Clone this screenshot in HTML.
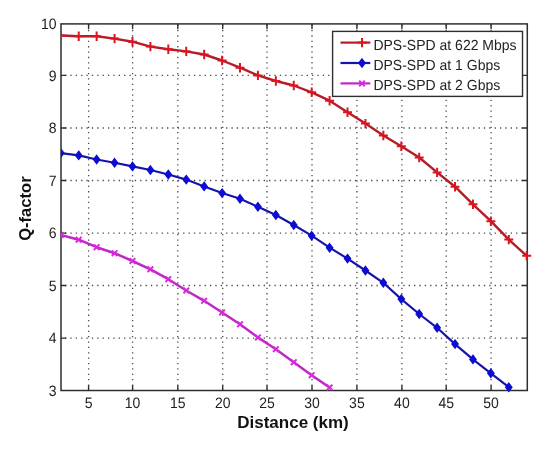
<!DOCTYPE html><html><head><meta charset="utf-8"><title>Q-factor vs Distance</title><style>html,body{margin:0;padding:0;background:#fff;width:550px;height:455px;overflow:hidden;}svg{display:block;filter:blur(0.3px);}text{font-family:"Liberation Sans",Arial,sans-serif;}</style></head><body>
<svg width="550" height="455" viewBox="0 0 550 455">
<rect x="0" y="0" width="550" height="455" fill="#fff"/>
<path d="M88.60 390.50V23.90M132.60 390.50V23.90M177.80 390.50V23.90M222.70 390.50V23.90M267.00 390.50V23.90M312.00 390.50V23.90M356.90 390.50V23.90M401.90 390.50V23.90M446.20 390.50V23.90M491.10 390.50V23.90" stroke="#4a4a4a" stroke-width="1.3" stroke-dasharray="1.3 4.07" stroke-dashoffset="-4.8" fill="none"/>
<path d="M61.00 338.10H527.30M61.00 285.50H527.30M61.00 233.10H527.30M61.00 180.50H527.30M61.00 128.00H527.30M61.00 75.40H527.30" stroke="#4a4a4a" stroke-width="1.3" stroke-dasharray="1.3 4.07" stroke-dashoffset="-4" fill="none"/>
<path d="M88.60 390.50v-5.3M88.60 23.90v5.3M132.60 390.50v-5.3M132.60 23.90v5.3M177.80 390.50v-5.3M177.80 23.90v5.3M222.70 390.50v-5.3M222.70 23.90v5.3M267.00 390.50v-5.3M267.00 23.90v5.3M312.00 390.50v-5.3M312.00 23.90v5.3M356.90 390.50v-5.3M356.90 23.90v5.3M401.90 390.50v-5.3M401.90 23.90v5.3M446.20 390.50v-5.3M446.20 23.90v5.3M491.10 390.50v-5.3M491.10 23.90v5.3M61.00 338.10h5.3M527.30 338.10h-5.3M61.00 285.50h5.3M527.30 285.50h-5.3M61.00 233.10h5.3M527.30 233.10h-5.3M61.00 180.50h5.3M527.30 180.50h-5.3M61.00 128.00h5.3M527.30 128.00h-5.3M61.00 75.40h5.3M527.30 75.40h-5.3" stroke="#2e2e2e" stroke-width="1.4" fill="none"/>
<rect x="61.00" y="23.90" width="466.30" height="366.60" stroke="#2e2e2e" stroke-width="1.5" fill="none"/>
<defs><clipPath id="c"><rect x="61.00" y="0" width="489.00" height="455"/></clipPath></defs>
<g clip-path="url(#c)">
<path d="M60.80 35.50 L78.72 36.30 L96.64 36.30 L114.56 38.60 L132.48 41.70 L150.40 46.60 L168.32 49.20 L186.24 51.40 L204.16 54.50 L222.08 60.50 L240.00 67.70 L257.92 75.40 L275.84 81.00 L293.76 85.50 L311.68 92.30 L329.60 100.70 L347.52 112.20 L365.44 123.60 L383.36 135.50 L401.28 146.20 L419.20 157.50 L437.12 172.40 L455.04 186.70 L472.96 204.30 L490.88 221.20 L508.80 239.60 L526.72 255.80" stroke="#b61c26" stroke-width="2.4" fill="none" stroke-linejoin="round"/>
<path d="M60.80 153.10 L78.72 155.40 L96.64 159.50 L114.56 162.70 L132.48 166.40 L150.40 170.00 L168.32 174.50 L186.24 179.60 L204.16 186.40 L222.08 193.10 L240.00 198.80 L257.92 206.80 L275.84 215.00 L293.76 225.00 L311.68 235.70 L329.60 247.70 L347.52 258.60 L365.44 270.50 L383.36 282.80 L401.28 299.10 L419.20 314.00 L437.12 327.80 L455.04 344.10 L472.96 359.40 L490.88 373.30 L508.80 387.20" stroke="#1612ac" stroke-width="2.15" fill="none" stroke-linejoin="round"/>
<path d="M60.80 235.00 L78.72 239.70 L96.64 247.20 L114.56 253.20 L132.48 261.00 L150.40 269.30 L168.32 279.20 L186.24 290.50 L204.16 300.80 L222.08 312.50 L240.00 324.30 L257.92 337.40 L275.84 349.20 L293.76 362.20 L311.68 375.20 L329.60 387.50" stroke="#c126c6" stroke-width="2.5" fill="none" stroke-linejoin="round"/>
<path d="M56.30 35.50h9.00M60.80 30.80v9.40M74.22 36.30h9.00M78.72 31.60v9.40M92.14 36.30h9.00M96.64 31.60v9.40M110.06 38.60h9.00M114.56 33.90v9.40M127.98 41.70h9.00M132.48 37.00v9.40M145.90 46.60h9.00M150.40 41.90v9.40M163.82 49.20h9.00M168.32 44.50v9.40M181.74 51.40h9.00M186.24 46.70v9.40M199.66 54.50h9.00M204.16 49.80v9.40M217.58 60.50h9.00M222.08 55.80v9.40M235.50 67.70h9.00M240.00 63.00v9.40M253.42 75.40h9.00M257.92 70.70v9.40M271.34 81.00h9.00M275.84 76.30v9.40M289.26 85.50h9.00M293.76 80.80v9.40M307.18 92.30h9.00M311.68 87.60v9.40M325.10 100.70h9.00M329.60 96.00v9.40M343.02 112.20h9.00M347.52 107.50v9.40M360.94 123.60h9.00M365.44 118.90v9.40M378.86 135.50h9.00M383.36 130.80v9.40M396.78 146.20h9.00M401.28 141.50v9.40M414.70 157.50h9.00M419.20 152.80v9.40M432.62 172.40h9.00M437.12 167.70v9.40M450.54 186.70h9.00M455.04 182.00v9.40M468.46 204.30h9.00M472.96 199.60v9.40M486.38 221.20h9.00M490.88 216.50v9.40M504.30 239.60h9.00M508.80 234.90v9.40M522.22 255.80h9.00M526.72 251.10v9.40" stroke="#dc1420" stroke-width="2" fill="none"/>
<path d="M60.80 148.90L64.00 153.10L60.80 157.30L57.60 153.10ZM78.72 151.20L81.92 155.40L78.72 159.60L75.52 155.40ZM96.64 155.30L99.84 159.50L96.64 163.70L93.44 159.50ZM114.56 158.50L117.76 162.70L114.56 166.90L111.36 162.70ZM132.48 162.20L135.68 166.40L132.48 170.60L129.28 166.40ZM150.40 165.80L153.60 170.00L150.40 174.20L147.20 170.00ZM168.32 170.30L171.52 174.50L168.32 178.70L165.12 174.50ZM186.24 175.40L189.44 179.60L186.24 183.80L183.04 179.60ZM204.16 182.20L207.36 186.40L204.16 190.60L200.96 186.40ZM222.08 188.90L225.28 193.10L222.08 197.30L218.88 193.10ZM240.00 194.60L243.20 198.80L240.00 203.00L236.80 198.80ZM257.92 202.60L261.12 206.80L257.92 211.00L254.72 206.80ZM275.84 210.80L279.04 215.00L275.84 219.20L272.64 215.00ZM293.76 220.80L296.96 225.00L293.76 229.20L290.56 225.00ZM311.68 231.50L314.88 235.70L311.68 239.90L308.48 235.70ZM329.60 243.50L332.80 247.70L329.60 251.90L326.40 247.70ZM347.52 254.40L350.72 258.60L347.52 262.80L344.32 258.60ZM365.44 266.30L368.64 270.50L365.44 274.70L362.24 270.50ZM383.36 278.60L386.56 282.80L383.36 287.00L380.16 282.80ZM401.28 294.90L404.48 299.10L401.28 303.30L398.08 299.10ZM419.20 309.80L422.40 314.00L419.20 318.20L416.00 314.00ZM437.12 323.60L440.32 327.80L437.12 332.00L433.92 327.80ZM455.04 339.90L458.24 344.10L455.04 348.30L451.84 344.10ZM472.96 355.20L476.16 359.40L472.96 363.60L469.76 359.40ZM490.88 369.10L494.08 373.30L490.88 377.50L487.68 373.30ZM508.80 383.00L512.00 387.20L508.80 391.40L505.60 387.20Z" stroke="#0c0cd4" stroke-width="1.2" fill="#0c0cd4"/>
<path d="M58.00 232.20l5.60 5.60M58.00 237.80l5.60 -5.60M75.92 236.90l5.60 5.60M75.92 242.50l5.60 -5.60M93.84 244.40l5.60 5.60M93.84 250.00l5.60 -5.60M111.76 250.40l5.60 5.60M111.76 256.00l5.60 -5.60M129.68 258.20l5.60 5.60M129.68 263.80l5.60 -5.60M147.60 266.50l5.60 5.60M147.60 272.10l5.60 -5.60M165.52 276.40l5.60 5.60M165.52 282.00l5.60 -5.60M183.44 287.70l5.60 5.60M183.44 293.30l5.60 -5.60M201.36 298.00l5.60 5.60M201.36 303.60l5.60 -5.60M219.28 309.70l5.60 5.60M219.28 315.30l5.60 -5.60M237.20 321.50l5.60 5.60M237.20 327.10l5.60 -5.60M255.12 334.60l5.60 5.60M255.12 340.20l5.60 -5.60M273.04 346.40l5.60 5.60M273.04 352.00l5.60 -5.60M290.96 359.40l5.60 5.60M290.96 365.00l5.60 -5.60M308.88 372.40l5.60 5.60M308.88 378.00l5.60 -5.60M326.80 384.70l5.60 5.60M326.80 390.30l5.60 -5.60" stroke="#d82adc" stroke-width="2" fill="none"/>
</g>
<text transform="translate(88.60 407.6) scale(1 1.08)" font-size="14" text-rendering="geometricPrecision" text-anchor="middle" fill="#222">5</text>
<text transform="translate(132.60 407.6) scale(1 1.08)" font-size="14" text-rendering="geometricPrecision" text-anchor="middle" fill="#222">10</text>
<text transform="translate(177.80 407.6) scale(1 1.08)" font-size="14" text-rendering="geometricPrecision" text-anchor="middle" fill="#222">15</text>
<text transform="translate(222.70 407.6) scale(1 1.08)" font-size="14" text-rendering="geometricPrecision" text-anchor="middle" fill="#222">20</text>
<text transform="translate(267.00 407.6) scale(1 1.08)" font-size="14" text-rendering="geometricPrecision" text-anchor="middle" fill="#222">25</text>
<text transform="translate(312.00 407.6) scale(1 1.08)" font-size="14" text-rendering="geometricPrecision" text-anchor="middle" fill="#222">30</text>
<text transform="translate(356.90 407.6) scale(1 1.08)" font-size="14" text-rendering="geometricPrecision" text-anchor="middle" fill="#222">35</text>
<text transform="translate(401.90 407.6) scale(1 1.08)" font-size="14" text-rendering="geometricPrecision" text-anchor="middle" fill="#222">40</text>
<text transform="translate(446.20 407.6) scale(1 1.08)" font-size="14" text-rendering="geometricPrecision" text-anchor="middle" fill="#222">45</text>
<text transform="translate(491.10 407.6) scale(1 1.08)" font-size="14" text-rendering="geometricPrecision" text-anchor="middle" fill="#222">50</text>
<text transform="translate(56.5 395.60) scale(1 1.07)" font-size="14" text-rendering="geometricPrecision" text-anchor="end" fill="#222">3</text>
<text transform="translate(56.5 343.20) scale(1 1.07)" font-size="14" text-rendering="geometricPrecision" text-anchor="end" fill="#222">4</text>
<text transform="translate(56.5 290.60) scale(1 1.07)" font-size="14" text-rendering="geometricPrecision" text-anchor="end" fill="#222">5</text>
<text transform="translate(56.5 238.20) scale(1 1.07)" font-size="14" text-rendering="geometricPrecision" text-anchor="end" fill="#222">6</text>
<text transform="translate(56.5 185.60) scale(1 1.07)" font-size="14" text-rendering="geometricPrecision" text-anchor="end" fill="#222">7</text>
<text transform="translate(56.5 133.10) scale(1 1.07)" font-size="14" text-rendering="geometricPrecision" text-anchor="end" fill="#222">8</text>
<text transform="translate(56.5 80.50) scale(1 1.07)" font-size="14" text-rendering="geometricPrecision" text-anchor="end" fill="#222">9</text>
<text transform="translate(56.5 29.00) scale(1 1.07)" font-size="14" text-rendering="geometricPrecision" text-anchor="end" fill="#222">10</text>
<text x="293" y="428" font-size="17" font-weight="bold" text-anchor="middle" fill="#111">Distance (km)</text>
<text transform="translate(30.9,208.6) rotate(-90)" font-size="16.6" font-weight="bold" text-anchor="middle" fill="#111">Q-factor</text>
<rect x="332.6" y="31.4" width="189.9" height="65.0" fill="#fff" stroke="#2e2e2e" stroke-width="1.4"/>
<path d="M340.5 42.60H370.3" stroke="#b61c26" stroke-width="2.2"/>
<path d="M357.50 42.60h9.00M362.00 37.90v9.40" stroke="#dc1420" stroke-width="2"/>
<text transform="translate(373.4 49.60) scale(1 1.04)" font-size="14" text-rendering="geometricPrecision" fill="#222">DPS-SPD at 622 Mbps</text>
<path d="M340.5 63.00H370.3" stroke="#1612ac" stroke-width="2.2"/>
<path d="M362.00 58.80L365.20 63.00L362.00 67.20L358.80 63.00Z" fill="#0c0cd4" stroke="#0c0cd4" stroke-width="1.2"/>
<text transform="translate(373.4 69.65) scale(1 1.04)" font-size="14" text-rendering="geometricPrecision" fill="#222">DPS-SPD at 1 Gbps</text>
<path d="M340.5 83.40H370.3" stroke="#c126c6" stroke-width="2.2"/>
<path d="M359.20 80.60l5.60 5.60M359.20 86.20l5.60 -5.60" stroke="#d82adc" stroke-width="2"/>
<text transform="translate(373.4 89.70) scale(1 1.04)" font-size="14" text-rendering="geometricPrecision" fill="#222">DPS-SPD at 2 Gbps</text>
</svg></body></html>
